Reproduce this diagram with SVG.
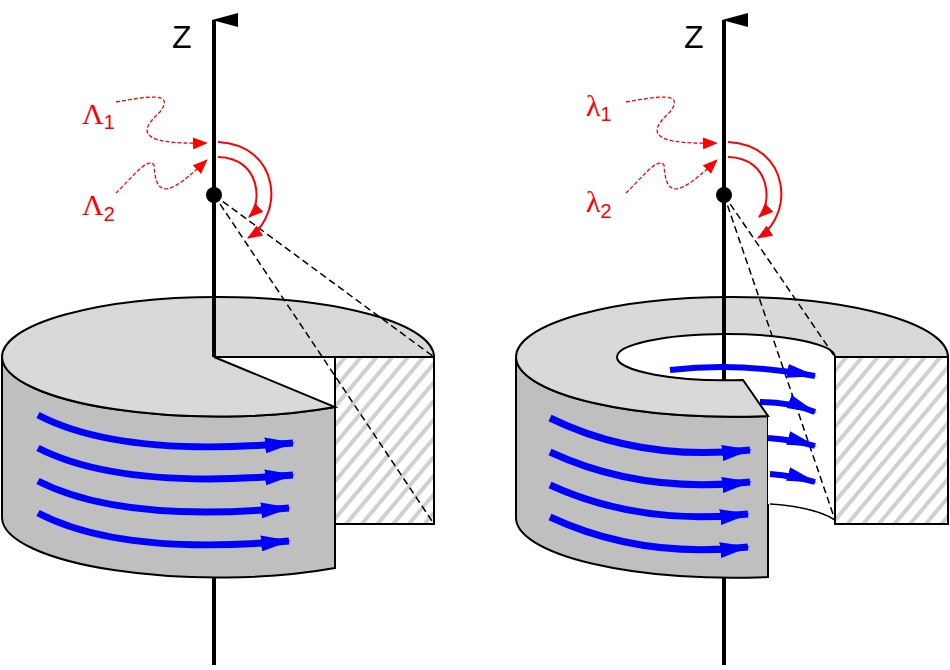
<svg xmlns="http://www.w3.org/2000/svg" width="950" height="670" viewBox="0 0 950 670">
<defs>
<pattern id="hatch" patternUnits="userSpaceOnUse" width="12" height="12" patternTransform="rotate(40)">
<rect width="12" height="12" fill="#fff"/><rect width="4" height="12" fill="#d0d0d0"/>
</pattern>
<marker id="ab" markerUnits="userSpaceOnUse" markerWidth="32" markerHeight="16" refX="28" refY="8" orient="auto"><path d="M0,0 L30,8 L0,16 Z" fill="#0000ff"/></marker>
<marker id="abs" markerUnits="userSpaceOnUse" markerWidth="32" markerHeight="16" refX="28" refY="8" orient="auto"><path d="M0,1 L30,8 L0,15 Z" fill="#0000ff"/></marker>
<marker id="ar" markerUnits="userSpaceOnUse" markerWidth="16" markerHeight="12" refX="14" refY="6" orient="auto"><path d="M0,0 L15,6 L0,12 Z" fill="#ff0000"/></marker>
<marker id="ak" markerUnits="userSpaceOnUse" markerWidth="14" markerHeight="26" refX="7" refY="2" orient="auto"><path d="M0,26 L7,0 L14,26 Z" fill="#000"/></marker>
</defs>
<style>
.side{fill:#bfbfbf;stroke:#000;stroke-width:2}
.top{fill:#d9d9d9;stroke:#000;stroke-width:2}
.hat{fill:url(#hatch);stroke:#000;stroke-width:2}
.dash{stroke:#000;stroke-width:1.5;stroke-dasharray:7,4;fill:none}
.blue{stroke:#0000ff;stroke-width:7;fill:none;marker-end:url(#ab)}
.bs{stroke:#0000ff;stroke-width:6;fill:none;marker-end:url(#abs)}
.rd{stroke:#ff0000;stroke-width:1.3;stroke-dasharray:4,2;fill:none;marker-end:url(#ar)}
.rs{stroke:#ff0000;stroke-width:2;fill:none;marker-end:url(#ar)}
.axis{stroke:#000;stroke-width:4;fill:none}
.lab{font-family:"Liberation Serif",serif;font-size:30px;fill:#ff0000}
.sub{font-family:"Liberation Sans",sans-serif;font-size:20px;fill:#ff0000}
.z{font-family:"Liberation Sans",sans-serif;font-size:32px;fill:#000}
</style>
<g id="left">
<path class="side" d="M2,357 L2,518 A216,60 0 0 0 335,568 L335,407 A216,60 0 0 1 2,357 Z"/>
<rect class="hat" x="335" y="357" width="99" height="167"/>
<path class="top" d="M214,357 L434,357 A216,60 0 0 0 2,357 A216,60 0 0 0 335,407 Z"/>
<path class="axis" d="M214,357 V20" marker-end="url(#ak)"/>
<path class="axis" d="M214,578 V665"/>
<circle cx="214" cy="195" r="8" fill="#000"/>
<text class="z" x="172" y="48">Z</text>
<path class="dash" d="M214,195 L434,357 M214,195 L434,524"/>
<path class="blue" d="M38,415 Q120,458 293,443"/>
<path class="blue" d="M38,448 Q120,490 293,475"/>
<path class="blue" d="M38,481 Q120,523 289,508"/>
<path class="blue" d="M38,513 Q120,556 289,541"/>
<text class="lab" x="82" y="124">Λ<tspan class="sub" dy="5">1</tspan></text>
<text class="lab" x="82" y="215">Λ<tspan class="sub" dy="6">2</tspan></text>
<path class="rd" d="M116,102 C150,96 175,92 160,112 C140,130 135,145 207,143"/>
<path class="rd" d="M116,193 C130,180 148,156 154,165 C156,200 170,195 207,160"/>
<path class="rs" d="M218,142 C280,145 285,215 248,238"/>
<path class="rs" d="M218,157 C262,158 262,205 249,217"/>
</g>
<g id="right">
<path class="side" d="M516,357 L516,518 A216,60 0 0 0 768,577 L768,416 A216,60 0 0 1 516,357 Z"/>
<path d="M768,416 L768,504 Q815,507 835,520 L835,357 Z" fill="#fff"/>
<path d="M770,504 Q815,507 835,520" fill="none" stroke="#000" stroke-width="1.5"/>
<rect class="hat" x="835" y="357" width="113" height="167"/>
<path class="top" d="M835,357 L948,357 A216,60 0 0 0 516,357 A216,60 0 0 0 768,416 L743,380 A109,23 0 0 1 617,357 A109,23 0 0 1 835,357 Z"/>
<path class="axis" d="M724,380 V20" marker-end="url(#ak)"/>
<path class="axis" d="M724,578 V665"/>
<circle cx="724" cy="195" r="8" fill="#000"/>
<text class="z" x="684" y="48">Z</text>
<path class="dash" d="M724,195 L835,357 M724,195 L835,520"/>
<path class="bs" d="M670,370 Q740,362 815,376"/>
<path class="bs" d="M760,402 Q790,402 815,412"/>
<path class="bs" d="M768,438 Q795,440 815,446"/>
<path class="bs" d="M770,474 Q795,476 815,482"/>
<path class="blue" d="M550,418 Q640,462 750,450"/>
<path class="blue" d="M550,452 Q640,494 750,482"/>
<path class="blue" d="M550,485 Q640,526 748,514"/>
<path class="blue" d="M550,517 Q640,559 748,547"/>
<text class="lab" x="586" y="116">λ<tspan class="sub" dy="5">1</tspan></text>
<text class="lab" x="586" y="212">λ<tspan class="sub" dy="6">2</tspan></text>
<path class="rd" d="M626,102 C660,96 685,92 670,112 C650,130 645,145 717,143"/>
<path class="rd" d="M626,193 C640,180 658,156 664,165 C666,200 680,195 717,160"/>
<path class="rs" d="M728,142 C790,145 795,215 758,238"/>
<path class="rs" d="M728,157 C772,158 772,205 759,217"/>
</g>
</svg>
